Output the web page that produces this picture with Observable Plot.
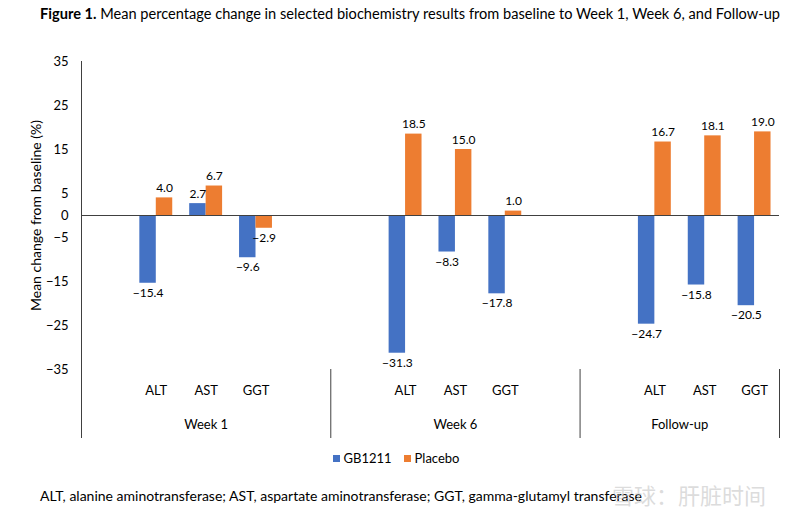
<!DOCTYPE html>
<html>
<head>
<meta charset="utf-8">
<script src="https://cdn.jsdelivr.net/npm/d3@7"></script>
<script src="https://cdn.jsdelivr.net/npm/@observablehq/plot@0.6"></script>
<style>
  html, body { margin: 0; padding: 0; background: #fff; }
  body { width: 800px; height: 519px; position: relative; overflow: hidden; font-family: Lato, "Open Sans", sans-serif; color: #000; }
  #title { position: absolute; top: 5px; left: 20px; width: 780px; text-align: center; font-size: 14.6px; white-space: nowrap; }
  #chart { position: absolute; top: 34px; left: 0; }
  #legend { position: absolute; top: 450px; left: -4px; width: 800px; text-align: center; font-size: 13px; color: #000; }
  #legend span.sw { display: inline-block; width: 7px; height: 7px; margin-right: 4px; vertical-align: 1px; }
  #legend span.item { margin: 0 6px; }
  #caption { position: absolute; top: 487px; left: 40px; font-size: 14px; white-space: nowrap; }
  #wm { position: absolute; top: 478px; left: 612px; font-family: "Noto Sans CJK SC", sans-serif; font-size: 22px; color: rgba(190,190,190,0.55); white-space: nowrap; }
</style>
</head>
<body>
<div id="title"><b>Figure 1.</b> Mean percentage change in selected biochemistry results from baseline to Week 1, Week 6, and Follow-up</div>
<div id="chart"></div>
<div id="legend"></div>
<div id="caption">ALT, alanine aminotransferase; AST, aspartate aminotransferase; GGT, gamma-glutamyl transferase</div>
<div id="wm">雪球：肝脏时间</div>
<script>
// ---- data ----
const groups = ["Week 1", "Week 6", "Follow-up"];
const groupSlots = [5, 5, 4];            // category slots per group (blank, ALT, AST, GGT, blank)
const tests = ["ALT", "AST", "GGT"];
const series = ["GB1211", "Placebo"];
const colors = ["#4472C4", "#ED7D31"];
const gb1211  = [-15.4, 2.7, -9.6, -31.3, -8.3, -17.8, -24.7, -15.8, -20.5];
const placebo = [4.0, 6.7, -2.9, 18.5, 15.0, 1.0, 16.7, 18.1, 19.0];
const yTicks = [35, 25, 15, 5, 0, -5, -15, -25, -35];

// ---- derived tables ----
const groupStart = [];
{ let s = 0; for (const n of groupSlots) { groupStart.push(s); s += n; } }
const totalSlots = d3.sum(groupSlots);
const boundaries = [...groupStart, totalSlots];
const halfW = 0.33;

const cats = [];
groups.forEach((g, gi) => tests.forEach((t, ti) => {
  cats.push({group: g, test: t, center: groupStart[gi] + 1 + ti + 0.5});
}));
const bars = [];
cats.forEach((c, i) => {
  bars.push({...c, series: series[0], value: gb1211[i], x1: c.center - halfW, x2: c.center});
  bars.push({...c, series: series[1], value: placebo[i], x1: c.center, x2: c.center + halfW});
});
bars.forEach(b => b.mid = (b.x1 + b.x2) / 2);
const groupLabels = groups.map((g, gi) => ({group: g, center: groupStart[gi] + groupSlots[gi] / 2}));

const fmt = d3.format(".1f");
const axisColor = "#404040";

const chart = Plot.plot({
  width: 800,
  height: 415,
  marginLeft: 81,
  marginRight: 21,
  marginTop: 27,
  marginBottom: 80,
  style: {fontFamily: "Lato, 'Open Sans', sans-serif", fontSize: "13px", color: "#000", background: "#fff"},
  x: {type: "linear", domain: [0, totalSlots], axis: null},
  y: {domain: [-35, 35], axis: null},
  color: {domain: series, range: colors},
  marks: [
    Plot.rect(bars, {x1: "x1", x2: "x2", y1: 0, y2: "value", fill: "series"}),
    Plot.ruleY([0], {stroke: axisColor, strokeWidth: 1}),
    Plot.ruleX([0], {stroke: axisColor, strokeWidth: 1}),
    Plot.axisX({ticks: boundaries, tickSize: 69, tickFormat: () => "", label: null, stroke: axisColor, strokeWidth: 1}),
    Plot.axisY({ticks: yTicks, tickSize: 0, tickPadding: 13, tickFormat: d3.format("d"), label: null, fontSize: 13, fill: "#000"}),
    Plot.text(bars.filter(d => d.value >= 0), {x: "mid", y: "value", text: d => fmt(d.value), lineAnchor: "bottom", dy: -6, fontSize: 12, fill: "#000"}),
    Plot.text(bars.filter(d => d.value < 0), {x: "mid", y: "value", text: d => fmt(d.value), lineAnchor: "top", dy: 5, fontSize: 12, fill: "#000"}),
    Plot.text(cats, {x: "center", text: "test", frameAnchor: "bottom", dy: 25, fontSize: 13, fill: "#000"}),
    Plot.text(groupLabels, {x: "center", text: "group", frameAnchor: "bottom", dy: 59, fontSize: 13, fill: "#000"}),
    Plot.text(["Mean change from baseline (%)"], {text: d => d, frameAnchor: "left", textAnchor: "middle", dx: -45, rotate: -90, fontSize: 14, fill: "#000"})
  ]
});
document.getElementById("chart").appendChild(chart);

const legend = document.getElementById("legend");
series.forEach((s, i) => {
  const item = document.createElement("span");
  item.className = "item";
  item.innerHTML = `<span class="sw" style="background:${colors[i]}"></span>${s}`;
  legend.appendChild(item);
});
</script>
</body>
</html>
